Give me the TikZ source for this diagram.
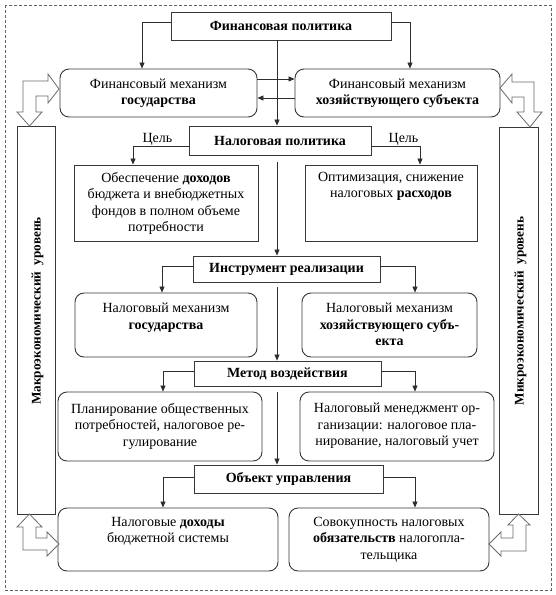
\documentclass[tikz,border=0pt]{standalone}
\usepackage{fontspec}
\setmainfont{Liberation Serif}
\usetikzlibrary{arrows.meta,calc}
\definecolor{boxc}{gray}{0.22}
\definecolor{linec}{gray}{0.18}
\definecolor{blkc}{gray}{0.42}
\definecolor{dashc}{gray}{0.38}
\begin{document}
\begin{tikzpicture}[x=1pt,y=-1pt,
  fnt/.style={font=\fontsize{14}{16.5}\selectfont},
  box/.style={draw=boxc, line width=0.9pt, inner sep=0pt, fill=white},
  hdr/.style={box, font=\fontsize{14}{16.5}\selectfont\bfseries},
  rbox/.style={box, rounded corners=9pt},
  txt/.style={align=center, inner sep=0pt, anchor=north, font=\fontsize{14}{16.5}\selectfont},
  ctxt/.style={align=center, inner sep=0pt, font=\fontsize{14}{16.5}\selectfont},
  con/.style={draw=linec, line width=0.8pt, -{Triangle[length=6pt,width=5pt]}},
  blk/.style={draw=blkc, line width=0.8pt, fill=white, line join=miter},
  lbl/.style={above, inner sep=0.6pt, font=\fontsize{14}{16.5}\selectfont},
  vtxt/.style={rotate=90, inner sep=0pt, font=\fontsize{13.2}{16}\selectfont\bfseries}
]
\useasboundingbox (0,0) rectangle (555,595);
\fill[white] (0,0) rectangle (555,595);
\draw[dashc, line width=0.8pt, dash pattern=on 3pt off 2pt] (5,5) rectangle (551,590);

\coordinate (cx) at (277,0);

% side level boxes
\node[box, minimum width=38pt, minimum height=388pt] (macro) at (36,320) {};
\node[vtxt] (macrot) at (37.5,311) {Макроэкономический\enspace уровень};
\node[box, minimum width=39pt, minimum height=387pt] (micro) at (518.5,320.5) {};
\node[vtxt] (microt) at (520.5,311) {Микроэкономический\enspace уровень};

% headers
\node[hdr, minimum width=220pt, minimum height=28pt] (fp) at (281,26) {Финансовая политика};
\node[hdr, minimum width=182pt, minimum height=29pt] (np) at (280,140.5) {Налоговая политика};
\node[hdr, minimum width=187pt, minimum height=26pt] (ir) at (286.5,269) {Инструмент реализации};
\node[hdr, minimum width=187pt, minimum height=25pt] (mv) at (287.5,373.5) {Метод воздействия};
\node[hdr, minimum width=189pt, minimum height=28pt] (ou) at (288.5,479) {Объект управления};

% financial mechanisms
\node[rbox, minimum width=197pt, minimum height=48pt] (fml) at (158.5,93) {};
\node[ctxt] (fmlt) at (fml) {Финансовый механизм\\{\bfseries государства}};
\node[rbox, minimum width=205pt, minimum height=48pt] (fmr) at (397.5,93) {};
\node[ctxt] (fmrt) at (fmr) {Финансовый механизм\\{\bfseries хозяйствующего субъекта}};

% goals
\node[box, minimum width=184pt, minimum height=76pt] (gl) at (166,203) {};
\node[txt] (glt) at (166,172) {Обеспечение {\bfseries доходов}\\бюджета и внебюджетных\\фондов в полном объеме\\потребности};
\node[box, minimum width=172pt, minimum height=76pt] (gr) at (391,203) {};
\node[txt] (grt) at (391,172) {Оптимизация, снижение\\налоговых {\bfseries расходов}};

% tax mechanisms
\node[rbox, minimum width=182pt, minimum height=64pt] (nml) at (166,325) {};
\node[txt] (nmlt) at (166,303) {Налоговый механизм\\{\bfseries государства}};
\node[rbox, minimum width=175pt, minimum height=64pt] (nmr) at (389.5,325) {};
\node[txt] (nmrt) at (389.5,303) {Налоговый механизм\\{\bfseries хозяйствующего субъ-}\\{\bfseries екта}};

% methods
\node[rbox, minimum width=204pt, minimum height=69pt] (pl) at (160,426.5) {};
\node[txt] (plt) at (160,403) {Планирование общественных\\потребностей, налоговое ре-\\гулирование};
\node[rbox, minimum width=194pt, minimum height=69pt] (pr) at (397,426.5) {};
\node[txt] (prt) at (397,403) {Налоговый менеджмент ор-\\ганизации: налоговое пла-\\нирование, налоговый учет};

% objects
\node[rbox, minimum width=220pt, minimum height=63pt] (bl) at (168,539.5) {};
\node[txt] (blt) at (168,517) {Налоговые {\bfseries доходы}\\бюджетной системы};
\node[rbox, minimum width=200pt, minimum height=63pt] (br) at (389,539.5) {};
\node[txt] (brt) at (389,517) {Совокупность налоговых\\{\bfseries обязательств} налогопла-\\тельщика};

% connectors
\draw[con] ([yshift=4pt]fp.west) -| ([xshift=-16.5pt]fml.north);
\draw[con] ([yshift=4pt]fp.east) -| ([xshift=12.5pt]fmr.north);
\draw[con] (fp.south -| cx) -- (np.north -| cx);
\draw[con] ([yshift=14pt]fml.east) -- ([yshift=14pt]fmr.west);
\draw[con] ([yshift=-5pt]fmr.west) -- ([yshift=-5pt]fml.east);

\draw[con] ([yshift=-5.5pt]np.west) -| node[lbl, pos=0.28] {Цель} ([xshift=-33pt]gl.north);
\draw[con] ([yshift=-5.5pt]np.east) -| node[lbl, pos=0.33] {Цель} ([xshift=29pt]gr.north);
\draw[con] ($(np.south -| cx)+(0,7)$) -- (ir.north -| cx);

\draw[con] ([yshift=3pt]ir.west) -| ([xshift=-4pt]nml.north);
\draw[con] ([yshift=3pt]ir.east) -| ([xshift=25.5pt]nmr.north);
\draw[con] ($(ir.south -| cx)+(0,5)$) -- (mv.north -| cx);

\draw[con] ([yshift=2.5pt]mv.west) -| ([xshift=3pt]pl.north);
\draw[con] ([yshift=2.5pt]mv.east) -| ([xshift=18pt]pr.north);
\draw[con] ($(mv.south -| cx)+(0,6)$) -- (ou.north -| cx);

\draw[con] ([yshift=2pt]ou.west) -| ([xshift=-5pt]bl.north);
\draw[con] ([yshift=2pt]ou.east) -| ([xshift=26pt]br.north);

% block (double) arrows
\draw[blk] (59,89) -- (48,103) -- (48,96) -- (36,96) -- (36,112) -- (42,112) -- (29.5,126)
  -- (17,112) -- (23,112) -- (23,81) -- (48,81) -- (48,74) -- cycle;
\draw[blk] (500,88) -- (512,74) -- (512,82) -- (534,82) -- (534,112) -- (542,112) -- (530,127)
  -- (517,112) -- (524,112) -- (524,97) -- (512,97) -- (512,103) -- cycle;
\draw[blk] (29.5,514) -- (42,527) -- (36,527) -- (36,538) -- (47,538) -- (47,532) -- (59,544)
  -- (47,556) -- (47,550) -- (23,550) -- (23,527) -- (17,527) -- cycle;
\draw[blk] (518.5,514) -- (530,525) -- (526,525) -- (526,551) -- (501,551) -- (501,556) -- (489,544)
  -- (501,532) -- (501,538) -- (513,538) -- (513,525) -- (508,525) -- cycle;
\end{tikzpicture}
\end{document}
